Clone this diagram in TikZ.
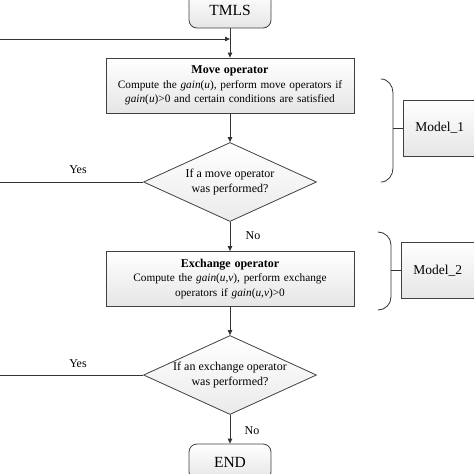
\documentclass[tikz,border=0pt]{standalone}
\usepackage{fontspec}
\setmainfont{Liberation Serif}
\usepackage{tikz}
\usetikzlibrary{positioning, arrows.meta, shapes.geometric}

\begin{document}
\begin{tikzpicture}[
      >={Triangle[length=5pt,width=4.5pt]},
      line width=0.8pt, draw=black!80,
      term/.style={draw=black!75, rounded corners=8pt, minimum width=82pt,
                   minimum height=36pt, top color=white, bottom color=black!10,
                   font=\fontsize{15.5}{18}\selectfont},
      opbox/.style={draw=black!75, top color=white, bottom color=black!10,
                    minimum width=248pt, minimum height=55pt, text width=244pt,
                    align=center, inner sep=1pt,
                    font=\fontsize{11.3}{14.5}\selectfont},
      ask/.style={diamond, draw=black!75, top color=white, bottom color=black!8,
                  aspect=2.19, minimum width=173pt, minimum height=79pt,
                  inner sep=0pt, align=center,
                  font=\fontsize{12}{14.5}\selectfont},
      mdl/.style={draw=black!75, top color=white, bottom color=black!10,
                  anchor=west, minimum height=56pt,
                  text width=86pt, align=left, inner xsep=12pt,
                  font=\fontsize{13.5}{16}\selectfont},
      lbl/.style={font=\fontsize{12}{14}\selectfont},
      brk/.style={draw=black!80, line width=0.8pt},
      x=1pt, y=-1pt]
    \useasboundingbox (0,0) rectangle (474,474);
    \clip (0,0) rectangle (474,474);
    % main column
    \node[term] (tmls) at (230,10) {TMLS};
    \node[opbox] (move) at (230,85.5) {{\fontsize{12}{14.5}\selectfont\bfseries Move operator}\\
      Compute the \textit{gain}(\textit{u}), perform move operators if\\
      \textit{gain}(\textit{u})>0 and certain conditions are satisfied};
    \node[ask] (q1) at (230,182) {If a move operator\\was performed?};
    \node[opbox] (exch) at (230,279) {{\fontsize{12}{14.5}\selectfont\bfseries Exchange operator}\\
      Compute the \textit{gain}(\textit{u,v}), perform exchange\\
      operators if \textit{gain}(\textit{u,v})>0};
    \node[ask] (q2) at (230,375) {If an exchange operator\\was performed?};
    \node[term] (stop) at (230,462) {END};
    % models
    \node[mdl] (m1) at (403,128) {Model\_1};
    \node[mdl] (m2) at (401,270.5) {Model\_2};
    % branch labels
    \node[lbl] (y1) at (78,170) {Yes};
    \node[lbl] (y2) at (78,364) {Yes};
    \node[lbl] (n1) at (253,236) {No};
    \node[lbl] (n2) at (252,431) {No};
    % flow
    \coordinate (join) at (230,39);
    \coordinate (lp) at (-16,39);
    \draw[->] (tmls) -- (move);
    \draw[->] (move) -- (q1);
    \draw[->] (q1) -- (exch);
    \draw[->] (exch) -- (q2);
    \draw[->] (q2) -- (stop);
    % yes loops back
    \draw (q1.west) -| (lp);
    \draw[->] (q2.west) -| (lp) -- (join);
    % brackets
    \draw[brk] (381,79) to[out=0,in=90] (393,93) -- (393,168) to[out=-90,in=0] (381,182);
    \coordinate (b1) at (393,128);
    \draw (b1) -- (m1.west);
    \draw[brk] (378,232) to[out=0,in=90] (391,245) -- (391,297) to[out=-90,in=0] (378,310);
    \coordinate (b2) at (391,270.5);
    \draw (b2) -- (m2.west);
  \end{tikzpicture}
\end{document}
